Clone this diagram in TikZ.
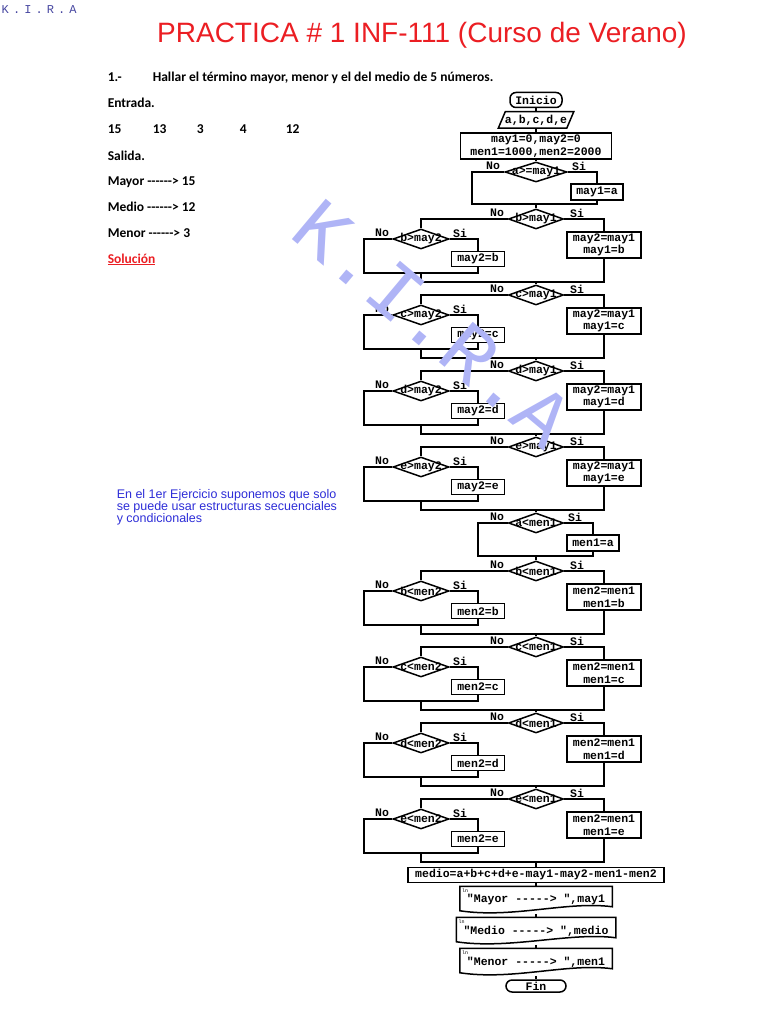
\documentclass[tikz,border=0pt]{standalone}
\usepackage{fontspec}
\setmainfont{Carlito}[Ligatures=TeXOff]
\setmonofont{Liberation Mono}
\newfontfamily\arialfont{Liberation Sans}
\newfontfamily\kirafont{Liberation Mono}[LetterSpace=34]
\newfontfamily\marcafont{Liberation Mono}
\usetikzlibrary{shapes.geometric,calc}

\definecolor{titlered}{RGB}{235,30,35}
\definecolor{notablue}{RGB}{45,45,215}
\definecolor{wmblue}{RGB}{175,180,246}
\definecolor{kirablue}{RGB}{70,70,160}

\tikzset{
  fc/.style={font=\ttfamily\bfseries\fontsize{11.5}{12.5}\selectfont},
  proc/.style={draw,fc,rectangle,inner sep=0pt,align=center},
  dec/.style={draw,diamond,inner sep=0pt,minimum width=55pt,minimum height=20pt},
  declab/.style={fc,inner sep=0pt},
  term/.style={draw,fc,rectangle,rounded corners=6pt,inner sep=0pt},
  inpt/.style={fc,rectangle,inner sep=0pt,minimum width=67pt,minimum height=15pt},
  outdoc/.style={fc,rectangle,inner sep=0pt,minimum height=26pt},
  yn/.style={fc,inner sep=0pt},
  lnlab/.style={font=\ttfamily\fontsize{5}{5}\selectfont,inner sep=1.5pt,anchor=north west},
  txt/.style={font=\bfseries\fontsize{13.5}{14}\selectfont,inner sep=0pt,anchor=base west},
}

\begin{document}
\begin{tikzpicture}[x=1pt,y=-1pt,line width=1.5pt]
\useasboundingbox (0,0) rectangle (768,1024);
% ---------- encabezado ----------
\node[font=\kirafont\fontsize{12}{12}\selectfont,text=kirablue,anchor=base west,inner sep=0pt] (kira) at (1,14) {K.I.R.A};
\node[font=\arialfont\fontsize{28}{28}\selectfont,text=titlered,anchor=base,inner sep=0pt] (titulo) at (422,43) {PRACTICA \# 1 INF-111 (Curso de Verano)};
% ---------- enunciado ----------
\node[txt] (num) at (107,82) {1.-};
\node[txt] (enun) at (152,82) {Hallar el término mayor, menor y el del medio de 5 números.};
\node[txt] (ent) at (107,108) {Entrada.};
\foreach \x/\n [count=\i] in {107/15,152/13,196/3,239/4,285/12}
  \node[txt] (v\i) at (\x,134) {\n};
\node[txt] (sal) at (107,161) {Salida.};
\node[txt] (smay) at (107,186) {Mayor ------> 15};
\node[txt] (smed) at (107,212) {Medio ------> 12};
\node[txt] (smen) at (107,237) {Menor ------> 3};
\node[txt,text=titlered] (sol) at (107,263) {\underline{Solución}};
\node[font=\arialfont\fontsize{12.5}{12}\selectfont,text=notablue,align=left,anchor=north west,inner sep=0pt] (nota) at (116,489)
  {En el 1er Ejercicio suponemos que solo\\se puede usar estructuras secuenciales\\y condicionales};
% ---------- inicio ----------
\node[term,minimum width=52pt,minimum height=15pt] (ini) at (536,100) {Inicio};
\node[inpt] (lee) at (536,120) {a,b,c,d,e};
\draw ([xshift=3.5pt]lee.north west) -- ([xshift=3.5pt]lee.north east)
  -- ([xshift=-3.5pt]lee.south east) -- ([xshift=-3.5pt]lee.south west) -- cycle;
\node[proc,minimum width=151pt,minimum height=26pt] (asig) at (536,146) {may1=0,may2=0\\men1=1000,men2=2000};
\draw (ini) -- (lee);
\draw (lee) -- (asig);
% ---------- a>=may1 ----------
\begin{scope}[shift={(536,172)}]
  \node[dec,minimum width=62pt,label={[declab]center:a>=may1}] (oa1) at (0,0) {};
  \node[proc,minimum width=52pt,minimum height=16pt] (ba1) at (61,20) {may1=a};
  \node[yn] (noa1) at (-43,-6) {No};
  \node[yn] (sia1) at (43,-6) {Si};
  \coordinate (ja1) at (0,32);
  \draw (oa1.west) -| (-64,32) -| (ba1.south);
  \draw (oa1.east) -| (ba1.north);
\end{scope}
% ---------- a<men1 ----------
\begin{scope}[shift={(536,523)}]
  \node[dec,label={[declab]center:a<men1}] (oa2) at (0,0) {};
  \node[proc,minimum width=52pt,minimum height=16pt] (ba2) at (57,20) {men1=a};
  \node[yn] (noa2) at (-39,-6) {No};
  \node[yn] (sia2) at (39,-6) {Si};
  \coordinate (ja2) at (0,33);
  \draw (oa2.west) -| (-58,33) -| (ba2.south);
  \draw (oa2.east) -| (ba2.north);
\end{scope}
% ---------- bloques anidados ----------
\foreach \k/\D/\ch/\vv/\op in {1/219/b/may/>,2/295/c/may/>,3/371/d/may/>,4/447/e/may/>,
                               5/571/b/men/<,6/647/c/men/<,7/723/d/men/<,8/799/e/men/<}{
  \begin{scope}[shift={(536,\D)}]
    \node[dec,label={[declab]center:\ch\op\vv1}] (o\k) at (0,0) {};
    \node[dec,minimum width=56pt,label={[declab]center:\ch\op\vv2}] (i\k) at (-115,20) {};
    \node[proc,minimum width=53pt,minimum height=15pt] (bi\k) at (-58,40) {\vv2=\ch};
    \node[proc,minimum width=74pt,minimum height=26pt] (br\k) at (68,26) {\vv2=\vv1\\\vv1=\ch};
    \node[yn] (no\k) at (-39,-6) {No};
    \node[yn] (si\k) at (41,-6) {Si};
    \node[yn] (nn\k) at (-154,14) {No};
    \node[yn] (ss\k) at (-76,14) {Si};
    \coordinate (ib\k) at (-115,54);
    \coordinate (j\k) at (0,63);
    \draw (o\k.west) -| (i\k.north);
    \draw (o\k.east) -| (br\k.north);
    \draw (i\k.west) -| (-172,54) -| (bi\k.south);
    \draw (i\k.east) -| (bi\k.north);
    \draw (ib\k) |- (j\k) -| (br\k.south);
  \end{scope}
}
% ---------- salida ----------
\node[proc,minimum width=256pt,minimum height=15pt] (med) at (536,875) {medio=a+b+c+d+e-may1-may2-men1-men2};
\node[outdoc,minimum width=151pt] (m1) at (536,900) {"Mayor -----> ",may1};
\node[outdoc,minimum width=158pt] (m2) at (536,931) {"Medio -----> ",medio};
\node[outdoc,minimum width=151pt] (m3) at (536,962) {"Menor -----> ",men1};
\node[term,minimum width=60pt,minimum height=12pt] (fin) at (536,986) {Fin};
\foreach \m in {m1,m2,m3}{
  \draw (\m.north west) -- (\m.north east) -- ([yshift=7pt]\m.south east)
    .. controls ([xshift=-45pt,yshift=13pt]\m.south east) and ([xshift=53pt,yshift=-5pt]\m.south west) .. ([yshift=3pt]\m.south west) -- cycle;
  \node[lnlab] (ln\m) at (\m.north west) {ln};
}
\draw (asig) -- (oa1);
\foreach \a/\b in {ja1/o1,j1/o2,j2/o3,j3/o4,j4/oa2,ja2/o5,j5/o6,j6/o7,j7/o8,j8/med}
  \draw (\a) -- (\b);
\draw (med) -- (m1);
\draw (m1) -- (m2);
\draw (m2) -- (m3);
\draw (m3) -- (fin);
% ---------- marca de agua ----------
\node[font=\marcafont\fontsize{80}{80}\selectfont,text=wmblue,rotate=-40,inner sep=0pt] (marca) at (433,323) {K.I.R.A};
\end{tikzpicture}
\end{document}
